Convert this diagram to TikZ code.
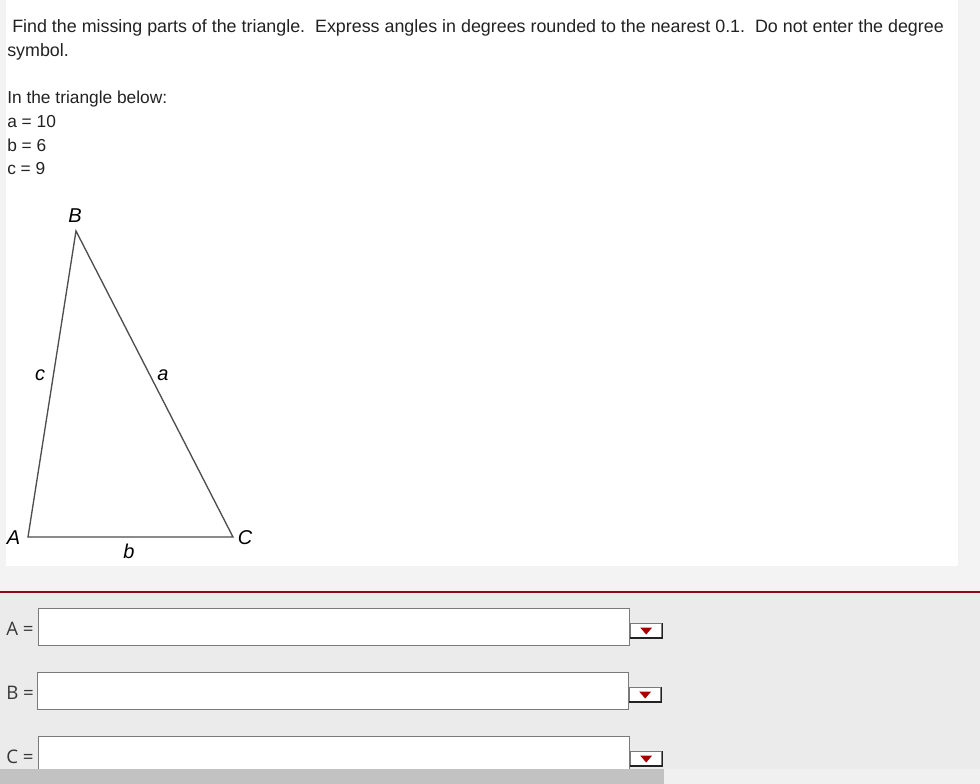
\documentclass[tikz,border=0pt]{standalone}
\usepackage{fontspec}
\setmainfont{Liberation Sans}
\newfontfamily\uifont{Open Sans}
\usetikzlibrary{positioning}

\definecolor{pagegray}{HTML}{F3F3F3}
\definecolor{formgray}{HTML}{EBEBEB}
\definecolor{bargray}{HTML}{C2C2C2}
\definecolor{barlight}{HTML}{F0F0F0}
\definecolor{rulered}{HTML}{8B0A1E}
\definecolor{boxline}{HTML}{7A7A7A}
\definecolor{ink}{HTML}{222222}
\definecolor{arrowred}{HTML}{A80000}

\tikzset{
	qtext/.style={anchor=base west, inner sep=0pt, text=ink, font=\fontsize{13.4}{16}\selectfont},
	given/.style={anchor=base west, inner sep=0pt, text=ink, font=\fontsize{13}{16}\selectfont},
	vlabel/.style={inner sep=0pt, text=black, font=\fontsize{15}{18}\selectfont\itshape},
	side/.style={draw=ink!80, line width=1pt},
	ansbox/.style={draw=boxline, fill=white, line width=0.8pt, anchor=north west,
		minimum width=443pt, minimum height=27.5pt, inner sep=0pt},
	dropbtn/.style={draw=boxline, fill=white, line width=0.8pt, anchor=north west,
		minimum width=23.5pt, minimum height=10.5pt, inner sep=0pt},
	anslabel/.style={anchor=base west, inner sep=0pt, text=ink!90, font=\uifont\fontsize{14}{16}\selectfont}
}

\begin{document}
\begin{tikzpicture}[x=0.75pt, y=-0.75pt]
	\useasboundingbox (0,0) rectangle (980,784);
	% page
	\fill[pagegray] (0,0) rectangle (980,592);
	\fill[white] (6,0) rectangle (958,566);
	\fill[formgray] (0,592) rectangle (980,784);
	\draw[rulered, line width=1pt] (0,592) -- (980,592);

	% question
	\node[qtext] (q1) at (12,33) {Find the missing parts of the triangle.~~Express angles in degrees rounded to the nearest 0.1.~~Do not enter the degree};
	\node[qtext] (q2) at (7,56.5) {symbol.};
	\node[given] (g0) at (7,103.5) {In the triangle below:};
	\node[given] (g1) at (7,127.5) {a = 10};
	\node[given] (g2) at (7,151.5) {b = 6};
	\node[given] (g3) at (7,175) {c = 9};

	% triangle
	\coordinate (A) at (28,537);
	\coordinate (B) at (76,231);
	\coordinate (C) at (233,537);
	\draw[side] (A) -- (B) -- (C) -- cycle;
	\node[vlabel] (lA) at (13.5,538) {A};
	\node[vlabel] (lB) at (75,216) {B};
	\node[vlabel] (lC) at (245,538) {C};
	\node[vlabel] (lc) at (40,375) {c};
	\node[vlabel] (la) at (163,375) {a};
	\node[vlabel] (lb) at (129,551) {b};

	% answers
	\node[ansbox] (boxA) at (38,608) {};
	\node[dropbtn] (btnA) at (630,623) {};
	\draw[ink, line width=1.3pt] (btnA.north east) -- (btnA.south east) -- (btnA.south west);
	\fill[arrowred] (btnA.center) ++(-6,-3) -- ++(12,0) -- ++(-6,7) -- cycle;
	\node[anslabel] (tA) at (6,635) {A =};

	\node[ansbox] (boxB) at (37,672) {};
	\node[dropbtn] (btnB) at (629,687) {};
	\draw[ink, line width=1.3pt] (btnB.north east) -- (btnB.south east) -- (btnB.south west);
	\fill[arrowred] (btnB.center) ++(-6,-3) -- ++(12,0) -- ++(-6,7) -- cycle;
	\node[anslabel] (tB) at (6,699) {B =};

	\node[ansbox] (boxC) at (38,736) {};
	\node[dropbtn] (btnC) at (630,751) {};
	\draw[ink, line width=1.3pt] (btnC.north east) -- (btnC.south east) -- (btnC.south west);
	\fill[arrowred] (btnC.center) ++(-6,-3) -- ++(12,0) -- ++(-6,7) -- cycle;
	\node[anslabel] (tC) at (6,763) {C =};

	% bottom bar
	\fill[bargray] (0,769) rectangle (664,784);
	\fill[barlight] (664,769) rectangle (980,784);
\end{tikzpicture}
\end{document}
